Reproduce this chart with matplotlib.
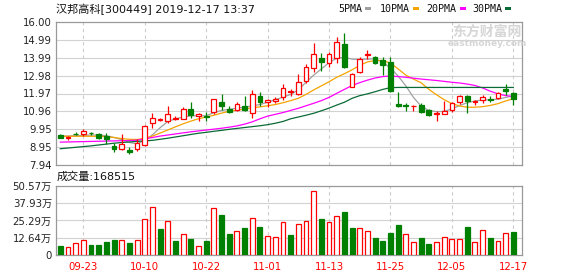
import matplotlib
matplotlib.use("Agg")
import matplotlib.pyplot as plt
from matplotlib.patches import Rectangle

plt.rcParams['font.family'] = ['DejaVu Sans', 'Noto Sans CJK SC']

# ---------------- data ----------------
dates = ["09-18", "09-19", "09-20", "09-23", "09-24", "09-25", "09-26", "09-27", "09-30", "10-08",
         "10-09", "10-10", "10-11", "10-14", "10-15", "10-16", "10-17", "10-18", "10-21", "10-22",
         "10-23", "10-24", "10-25", "10-28", "10-29", "10-30", "10-31", "11-01", "11-04", "11-05",
         "11-06", "11-07", "11-08", "11-11", "11-12", "11-13", "11-14", "11-15", "11-18", "11-19",
         "11-20", "11-21", "11-22", "11-25", "11-26", "11-27", "11-28", "11-29", "12-02", "12-03",
         "12-04", "12-05", "12-06", "12-09", "12-10", "12-11", "12-12", "12-13", "12-16", "12-17"]

opens = [9.62, 9.45, 9.72, 9.67, 9.76, 9.70, 9.56, 9.00, 8.88, 8.82,
         8.83, 9.10, 10.32, 10.50, 10.43, 10.52, 10.56, 11.11, 10.72, 10.72,
         10.92, 11.47, 11.11, 11.03, 11.29, 10.89, 11.81, 11.49, 11.53, 11.75,
         12.08, 11.94, 12.69, 13.38, 13.94, 13.66, 13.94, 14.75, 12.35, 13.19,
         14.11, 14.00, 13.85, 13.76, 11.36, 11.30, 11.27, 11.35, 11.05, 10.82,
         10.84, 11.05, 11.47, 11.84, 11.48, 11.58, 11.66, 11.71, 12.25, 11.98]
highs = [9.70, 9.57, 9.80, 9.97, 9.82, 9.75, 9.74, 9.19, 9.72, 8.95,
         9.42, 10.20, 10.90, 10.62, 11.25, 10.68, 11.22, 11.49, 10.89, 10.92,
         11.68, 11.95, 11.26, 11.48, 11.81, 12.17, 12.03, 11.66, 11.80, 12.50,
         12.20, 13.04, 13.62, 14.78, 14.22, 14.32, 15.16, 15.38, 13.10, 14.00,
         14.41, 14.08, 14.04, 14.00, 12.04, 11.45, 11.33, 11.45, 11.10, 10.96,
         11.55, 11.50, 11.88, 11.90, 11.62, 11.88, 11.82, 12.05, 12.50, 12.08]
lows = [9.48, 9.34, 9.62, 9.58, 9.64, 9.43, 9.14, 8.70, 8.79, 8.60,
        8.75, 9.00, 10.05, 10.40, 10.30, 10.48, 10.52, 10.59, 10.41, 10.41,
        10.80, 11.07, 10.85, 10.98, 10.98, 10.59, 11.29, 11.20, 11.45, 11.60,
        11.82, 11.87, 12.58, 13.19, 13.25, 13.48, 13.70, 13.38, 12.31, 13.14,
        13.89, 13.62, 13.00, 12.07, 11.23, 10.98, 10.98, 10.85, 10.72, 10.45,
        10.82, 10.95, 11.40, 10.88, 11.30, 11.45, 11.52, 11.68, 11.90, 11.35]
closes = [9.50, 9.52, 9.70, 9.84, 9.74, 9.48, 9.40, 8.83, 9.13, 8.69,
          9.18, 10.12, 10.60, 10.53, 10.80, 10.60, 11.11, 10.78, 10.80, 10.64,
          11.66, 11.25, 10.92, 11.40, 11.07, 11.92, 11.51, 11.60, 11.64, 12.26,
          12.10, 12.59, 13.44, 14.19, 13.75, 14.19, 14.88, 13.44, 13.04, 13.89,
          14.17, 13.66, 13.57, 12.13, 11.26, 11.28, 11.29, 10.93, 10.78, 10.86,
          11.00, 11.45, 11.82, 11.53, 11.55, 11.75, 11.63, 11.97, 12.13, 11.67]
prev_close = 9.60

ma5 = [9.58, 9.58, 9.60, 9.62, 9.64, 9.64, 9.60, 9.50, 9.38, 9.22,
       9.14, 9.35, 9.65, 10.05, 10.40, 10.55, 10.65, 10.72, 10.72, 10.72,
       10.90, 11.02, 11.08, 11.15, 11.20, 11.28, 11.35, 11.48, 11.62, 11.76,
       11.92, 12.17, 12.60, 13.00, 13.35, 13.70, 13.95, 14.00, 13.90, 13.88,
       13.90, 13.92, 13.72, 13.40, 12.95, 12.40, 11.75, 11.25, 11.02, 10.95,
       10.97, 11.10, 11.30, 11.45, 11.55, 11.60, 11.62, 11.65, 11.75, 11.83]
ma10 = [9.57, 9.57, 9.57, 9.57, 9.57, 9.57, 9.55, 9.50, 9.44, 9.40,
        9.39, 9.45, 9.58, 9.75, 9.92, 10.10, 10.27, 10.42, 10.55, 10.65,
        10.75, 10.87, 10.97, 11.03, 11.10, 11.17, 11.22, 11.28, 11.35, 11.45,
        11.57, 11.70, 11.92, 12.17, 12.40, 12.63, 12.88, 13.08, 13.30, 13.55,
        13.74, 13.82, 13.82, 13.68, 13.35, 13.00, 12.78, 12.57, 12.20, 11.90,
        11.62, 11.40, 11.27, 11.20, 11.20, 11.23, 11.30, 11.40, 11.55, 11.68]
ma20 = [9.24, 9.25, 9.26, 9.27, 9.28, 9.29, 9.30, 9.31, 9.32, 9.33,
        9.35, 9.42, 9.50, 9.58, 9.64, 9.70, 9.76, 9.82, 9.87, 9.92,
        9.97, 10.02, 10.08, 10.15, 10.25, 10.38, 10.55, 10.70, 10.80, 10.90,
        11.02, 11.14, 11.28, 11.42, 11.57, 11.75, 11.98, 12.20, 12.42, 12.58,
        12.72, 12.84, 12.92, 12.95, 12.92, 12.88, 12.83, 12.78, 12.74, 12.70,
        12.65, 12.60, 12.56, 12.50, 12.42, 12.28, 12.10, 11.95, 11.85, 11.80]
ma30 = [8.87, 8.91, 8.95, 8.99, 9.03, 9.08, 9.13, 9.18, 9.22, 9.25,
        9.28, 9.31, 9.34, 9.40, 9.46, 9.53, 9.60, 9.67, 9.74, 9.79,
        9.85, 9.90, 9.96, 10.01, 10.06, 10.11, 10.16, 10.22, 10.30, 10.40,
        10.55, 10.65, 10.75, 10.86, 11.00, 11.15, 11.32, 11.48, 11.70, 11.85,
        11.95, 12.07, 12.20, 12.30, 12.31, 12.31, 12.31, 12.31, 12.31, 12.31,
        12.31, 12.31, 12.31, 12.31, 12.31, 12.31, 12.31, 12.31, 12.31, 12.31]

volumes = [6.6, 5.6, 8.55, 10.75, 7.3, 7.3, 9.8, 11.0, 10.75, 8.8,
           10.75, 26.1, 34.9, 19.05, 24.7, 10.3, 15.1, 11.7, 6.8, 10.3,
           34.2, 29.3, 15.4, 17.3, 19.8, 26.9, 20.5, 13.7, 12.9, 23.9,
           14.66, 22.72, 24.92, 46.9, 26.4, 24.2, 28.6, 31.5, 19.8, 19.8,
           17.6, 12.5, 10.5, 16.4, 22.2, 15.4, 9.5, 12.5, 8.3, 9.5,
           12.9, 11.7, 11.7, 20.5, 9.5, 18.3, 12.5, 10.3, 16.1, 16.85]

price_ticks = [7.94, 8.95, 9.95, 10.96, 11.97, 12.98, 13.99, 14.99, 16.00]
price_tick_labels = ["7.94", "8.95", "9.95", "10.96", "11.97", "12.98", "13.99", "14.99", "16.00"]
vol_ticks = [0, 12.64, 25.29, 37.93, 50.57]
vol_tick_labels = ["0", "12.64万", "25.29万", "37.93万", "50.57万"]
label_idx = [3, 11, 19, 27, 35, 43, 51, 59]

title = "汉邦高科[300449] 2019-12-17 13:37"
vol_title = "成交量:168515"
ma_names = ["5PMA", "10PMA", "20PMA", "30PMA"]

# ---------------- style ----------------
RED = "#ff0000"
GREEN = "#008000"
MA_COLORS = ["#a0a0a0", "#f5a300", "#ff00ff", "#0b6b37"]
GRID = "#d2d2d2"
SPINE = "#999999"
MONO = ['DejaVu Sans Mono', 'Noto Sans CJK SC']

W, H = 578, 276
fig = plt.figure(figsize=(W / 100, H / 100), dpi=100)

def fx(px):
    return px / W

def fy(py):
    return 1 - py / H

L, R = 56, 522.3
ax = fig.add_axes([fx(L), fy(165.3), fx(R - L), (165.3 - 21.7) / H])
axv = fig.add_axes([fx(L), fy(255), fx(R - L), (255 - 186) / H])

n = len(dates)
xs = list(range(n))
xlim = (-0.56, n - 1 + 1.17)

# --- candles ---
cw = 0.62
for i in xs:
    o, h, l, c = opens[i], highs[i], lows[i], closes[i]
    up = c >= o
    col = RED if up else GREEN
    top, bot = max(o, c), min(o, c)
    ax.plot([i, i], [top, h], color=col, lw=0.9, zorder=3, solid_capstyle='butt')
    ax.plot([i, i], [l, bot], color=col, lw=0.9, zorder=3, solid_capstyle='butt')
    ax.add_patch(Rectangle((i - cw / 2, bot), cw, max(top - bot, 0.004),
                           facecolor="white" if up else GREEN, edgecolor=col,
                           lw=0.9, zorder=4))

# --- moving averages ---
for vals, colr in zip([ma5, ma10, ma20, ma30], MA_COLORS):
    ax.plot(xs, vals, color=colr, lw=0.9, zorder=2)

ax.set_xlim(*xlim)
ax.set_ylim(price_ticks[0], price_ticks[-1])
ax.set_yticks(price_ticks)
ax.set_yticklabels(price_tick_labels, fontsize=7.3, color="#222222")
ax.set_xticks([])
for y in price_ticks[1:-1]:
    ax.axhline(y, color=GRID, lw=0.8, zorder=0)
for i in label_idx:
    ax.axvline(i, color="#cccccc", lw=0.8, ls=(0, (3, 3)), zorder=0)
ax.tick_params(axis='y', length=0, pad=3)
for s in ax.spines.values():
    s.set_color(SPINE)
    s.set_linewidth(0.9)

# --- volume ---
prev = [prev_close] + closes[:-1]
vw = 0.64
for i in xs:
    up = closes[i] >= prev[i]
    col = RED if up else GREEN
    axv.add_patch(Rectangle((i - vw / 2, 0), vw, volumes[i],
                            facecolor="white" if up else GREEN, edgecolor=col,
                            lw=0.9, zorder=3))
axv.set_xlim(*xlim)
axv.set_ylim(vol_ticks[0], vol_ticks[-1])
axv.set_yticks(vol_ticks)
axv.set_yticklabels(vol_tick_labels, fontsize=7.3, color="#222222")
for y in vol_ticks[1:-1]:
    axv.axhline(y, color=GRID, lw=0.8, zorder=0)
for i in label_idx:
    axv.axvline(i, color="#cccccc", lw=0.8, ls=(0, (3, 3)), zorder=0)
axv.set_xticks(label_idx)
axv.set_xticklabels([dates[i] for i in label_idx], fontsize=7.3, color=RED)
axv.tick_params(axis='y', length=0, pad=3)
axv.tick_params(axis='x', length=0, pad=5)
for s in axv.spines.values():
    s.set_color(SPINE)
    s.set_linewidth(0.9)

# --- texts ---
fig.text(fx(56), fy(9), title, fontsize=8, color="#111111", va="center", ha="left")
fig.text(fx(57), fy(177), vol_title, fontsize=8, color="#111111", va="center", ha="left")

leg_text_x = [338, 380, 426, 472]
leg_mark_x = [365, 413, 460, 505]
for name, tx, mx, colr in zip(ma_names, leg_text_x, leg_mark_x, MA_COLORS):
    fig.text(fx(tx), fy(8.5), name, fontsize=7.2, family=MONO, color="#111111",
             va="center", ha="left")
    fig.patches.append(Rectangle((fx(mx), fy(10)), fx(6), 3 / H, facecolor=colr,
                                 edgecolor="none", transform=fig.transFigure, figure=fig))

# watermark
fig.text(fx(487), fy(32), "东方财富网", fontsize=10, color="#d6d6d6", va="center",
         ha="center", fontweight="bold")
fig.text(fx(487), fy(43.5), "eastmoney.com", fontsize=6.5, color="#d6d6d6", va="center",
         ha="center", fontweight="bold")

fig.savefig("out.png", dpi=100)
